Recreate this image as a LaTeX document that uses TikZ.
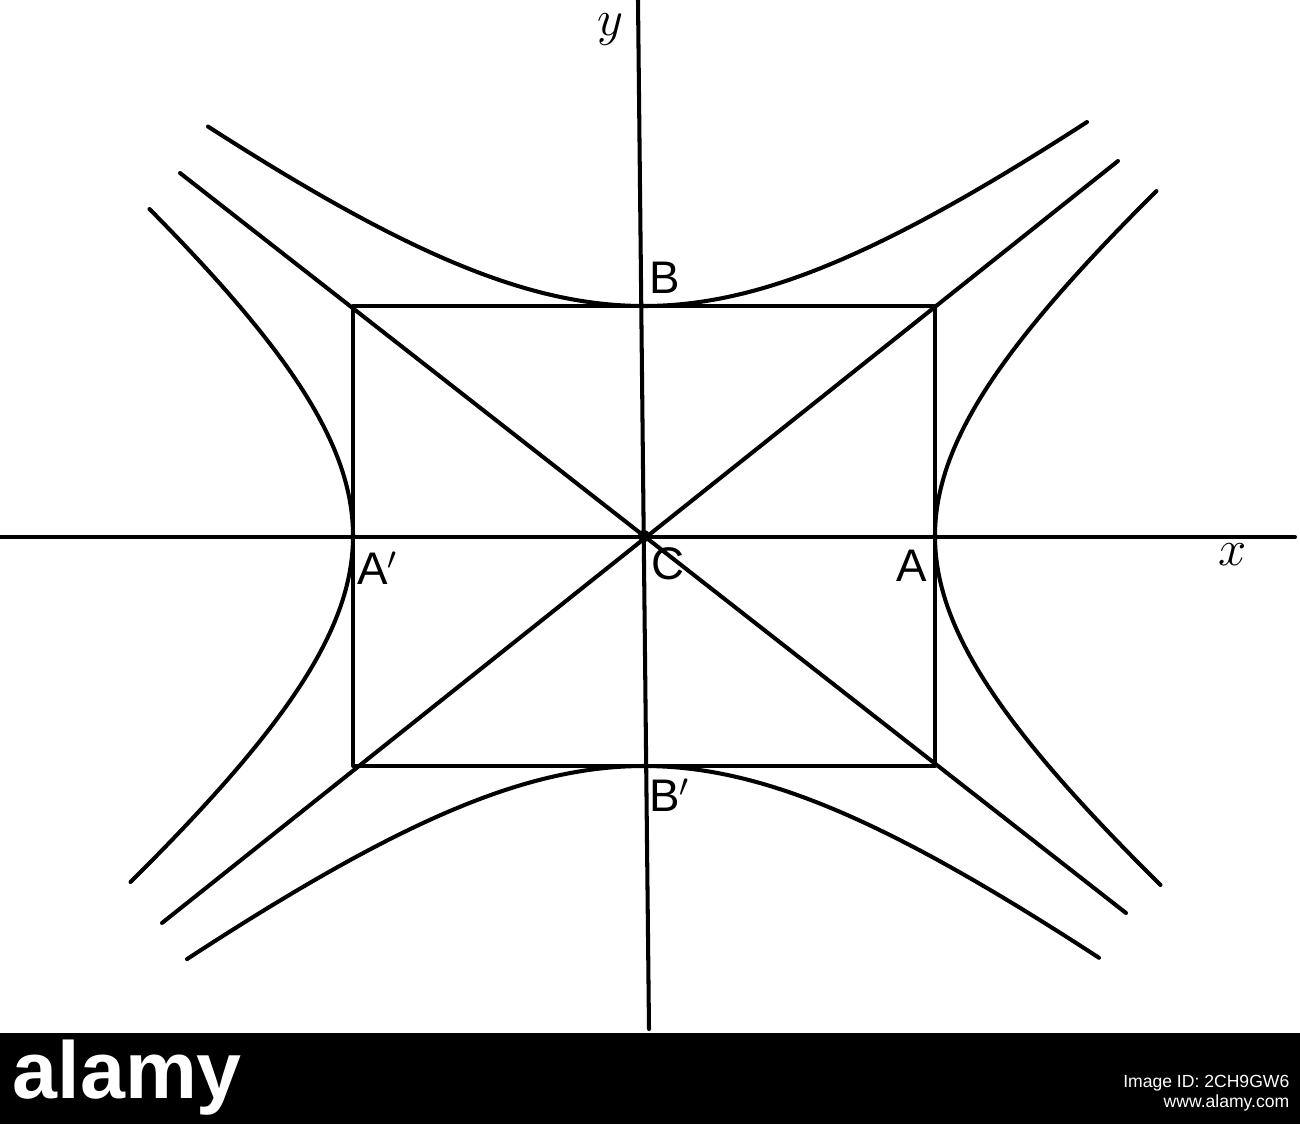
\documentclass[tikz,border=0pt]{standalone}
\usepackage{fontspec}
\newfontfamily\lblfont{Liberation Sans}
\begin{document}
\begin{tikzpicture}[x=0.1mm,y=-0.1mm,
  curve/.style={line width=1.15pt,line cap=round,line join=round},
  lbl/.style={font=\lblfont\fontsize{13}{13}\selectfont,inner sep=0pt},
  axlbl/.style={font=\fontsize{15}{15}\selectfont,inner sep=0pt}]
\useasboundingbox (0,0) rectangle (1300,1124);
% axes
\coordinate (xl) at (0,537);
\coordinate (xr) at (1295,537);
\coordinate (yt) at (638,0);
\coordinate (yb) at (649,1029);
\draw[curve] (xl) -- (xr);
\draw[curve] (yt) -- (yb);
% rectangle corners
\coordinate (P1) at (935,306);
\coordinate (P2) at (353,306);
\coordinate (P3) at (353,766);
\coordinate (P4) at (935,766);
\draw[curve] (P1) -- (P2) -- (P3) -- (P4) -- cycle;
% asymptotes
\coordinate (s1) at (180,173);
\coordinate (s2) at (1126,913);
\coordinate (s3) at (162,923);
\coordinate (s4) at (1118,161);
\draw[curve] (s1) -- (s2);
\draw[curve] (s3) -- (s4);
% hyperbola (right and left branches)
\draw[curve] plot[variable=\t,domain=-349:345,samples=90,smooth]
  ({644+291*sqrt(1+(\t/238)^2)},{536-\t});
\draw[curve] plot[variable=\t,domain=-346:327,samples=90,smooth]
  ({644-291*sqrt(1+(\t/238)^2)},{536-\t});
% conjugate hyperbola (upper and lower branches)
\draw[curve] plot[variable=\t,domain=-436:443,samples=90,smooth]
  ({644+\t},{536-230*sqrt(1+(\t/296)^2)});
\draw[curve] plot[variable=\t,domain=-457:455,samples=90,smooth]
  ({644+\t},{536+230*sqrt(1+(\t/296)^2)});
% centre dot
\fill (644,536) circle (6);
% labels
\node[axlbl] (ly) at (610,30) {$y$};
\node[axlbl] (lx) at (1233,555) {$x$};
\node[lbl] (B) at (665,278) {B};
\node[lbl] (Bp) at (670,795) {B$'$};
\node[lbl] (A) at (912,566) {A};
\node[lbl] (Ap) at (378,568) {A$'$};
\node[lbl] (C) at (668,564) {C};
% banner
\fill[black] (0,1033) rectangle (1300,1124);
\node[font=\lblfont\bfseries\fontsize{23}{23}\selectfont,text=white,anchor=west,inner sep=0pt] (logo) at (12,1078) {alamy};
\node[font=\lblfont\fontsize{5}{5}\selectfont,text=white,anchor=east,inner sep=0pt] (iid) at (1290,1083) {Image ID: 2CH9GW6};
\node[font=\lblfont\fontsize{5}{5}\selectfont,text=white,anchor=east,inner sep=0pt] (www) at (1290,1103) {www.alamy.com};
\end{tikzpicture}
\end{document}
